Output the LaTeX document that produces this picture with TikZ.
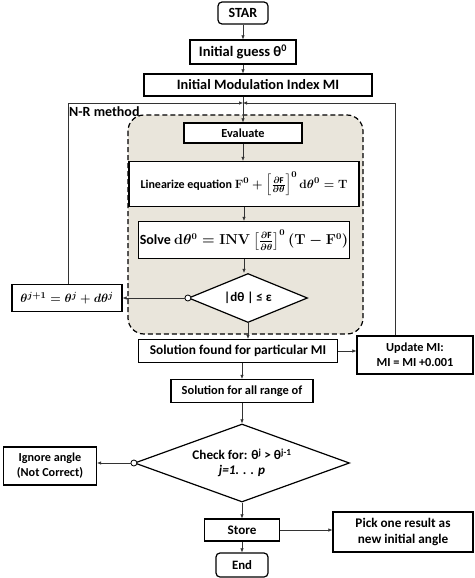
\documentclass[tikz,border=0pt]{standalone}
\usepackage{amsmath}
\usepackage{fontspec}
\setmainfont{Carlito}
\usetikzlibrary{shapes.geometric,arrows.meta}
\definecolor{beige}{HTML}{E9E5DB}
\newsavebox{\eqlinbox}
\newsavebox{\eqsolvebox}
\newsavebox{\equpdbox}
\begin{document}
\sbox{\eqlinbox}{\fontsize{12.6}{15}\selectfont\boldmath$\mathbf{F}^0+\left[\frac{\partial \mathrm{F}}{\partial\theta}\right]^0\mathbf{d}\theta^0=\mathbf{T}$}%
\sbox{\eqsolvebox}{\fontsize{13.5}{16}\selectfont\boldmath$\mathbf{d}\theta^0=\mathbf{INV}\left[\frac{\partial \mathrm{F}}{\partial\theta}\right]^0(\mathbf{T}-\mathbf{F}^0)$}%
\sbox{\equpdbox}{\fontsize{12.5}{14}\selectfont\boldmath$\theta^{j+1}=\theta^{j}+d\theta^{j}$}%
\begin{tikzpicture}[x=1pt,y=-1pt,
  box/.style={draw=black,line width=1.2pt,fill=white,inner sep=0pt,align=center,font=\bfseries},
  rbox/.style={box,rounded corners=4pt},
  dia/.style={draw=black,line width=1.2pt,fill=white,diamond,aspect=2.4,inner sep=0pt,align=center,font=\bfseries},
  conn/.style={draw=black!80,line width=0.6pt,-{Latex[length=4pt,width=3.5pt]}},
  line/.style={draw=black!80,line width=0.6pt},
  circ/.style={draw=black,line width=0.8pt,fill=white,circle,inner sep=0pt,minimum size=6pt}]
\useasboundingbox (0,0) rectangle (474,578);
% dashed region
\draw[line width=1.2pt,dash pattern=on 5pt off 3pt,fill=beige,rounded corners=16pt] (128,115) rectangle (363,334);
\node[font=\bfseries\fontsize{14}{16}\selectfont,anchor=west,inner sep=0pt] (nrlabel) at (69,112) {N-R method};
% nodes
\node[rbox,minimum width=50pt,minimum height=22pt,font=\bfseries\fontsize{14}{16}\selectfont] (star) at (243,13) {STAR};
\node[box,minimum width=106pt,minimum height=24pt,font=\bfseries\fontsize{14.5}{16}\selectfont] (guess) at (243,52) {Initial guess θ\textsuperscript{0}};
\node[box,minimum width=228pt,minimum height=22pt,font=\bfseries\fontsize{14.3}{16}\selectfont] (mi) at (258,85) {Initial Modulation Index MI};
\node[box,minimum width=118pt,minimum height=20pt,font=\bfseries\fontsize{12.3}{14}\selectfont] (eval) at (243,133) {Evaluate};
\node[box,minimum width=230pt,minimum height=45pt,font=\bfseries\fontsize{12}{14}\selectfont] (lin) at (244,184) {Linearize equation \usebox{\eqlinbox}};
\node[box,minimum width=211pt,minimum height=37pt,font=\bfseries\fontsize{14}{16}\selectfont] (solve) at (244,240) {Solve \usebox{\eqsolvebox}};
\node[dia,minimum width=119pt,minimum height=49pt,font=\bfseries\fontsize{13}{15}\selectfont] (eps) at (248,298) {|dθ | ≤ ε};
\node[box,minimum width=110pt,minimum height=27pt] (upd) at (67,298) {\usebox{\equpdbox}};
\node[box,minimum width=199pt,minimum height=23pt,font=\bfseries\fontsize{13.4}{15}\selectfont] (found) at (238,351) {Solution found for particular MI};
\node[box,minimum width=116pt,minimum height=38pt,font=\bfseries\fontsize{12.3}{15}\selectfont] (updmi) at (415,355) {Update MI:\\MI = MI +0.001};
\node[box,minimum width=142pt,minimum height=23pt,font=\bfseries\fontsize{12.4}{14}\selectfont] (range) at (242,391) {Solution for all range of};
\node[dia,minimum width=215pt,minimum height=78pt,font=\bfseries\fontsize{13.2}{15}\selectfont] (check) at (242,463) {Check for: θ\textsuperscript{j} > θ\textsuperscript{j-1}\\\itshape j=1. . . p};
\node[box,minimum width=93pt,minimum height=38pt,font=\bfseries\fontsize{12.2}{15}\selectfont] (ignore) at (50,466) {Ignore angle\\(Not Correct)};
\node[box,minimum width=75pt,minimum height=22pt,font=\bfseries\fontsize{13.1}{15}\selectfont] (store) at (242,530) {Store};
\node[box,minimum width=140pt,minimum height=40pt,font=\bfseries\fontsize{13.2}{15.5}\selectfont] (pick) at (403,532) {Pick one result as\\new initial angle};
\node[rbox,minimum width=52pt,minimum height=24pt,font=\bfseries\fontsize{12.8}{15}\selectfont] (endn) at (242,565) {End};
% coordinates
\coordinate (top) at (243,103);
\coordinate (tl) at (68,103);
\coordinate (tr) at (395,103);
% connectors
\draw[conn] (star.south) -- (guess.north);
\draw[conn] (guess.south) -- (mi.north -| guess.south);
\draw[conn] (mi.south -| eval.north) -- (eval.north);
\draw[conn] (eval.south) -- (lin.north -| eval.south);
\draw[conn] (lin.south -| solve.north) -- (solve.north);
\draw[conn] (solve.south) -- (eps.north -| solve.south);
\draw[conn] (eps.south) -- (eps.south |- found.north);
\node[circ] (c1) at (eps.west) {};
\draw[conn] (c1.west) -- (upd.east);
\draw[line] (upd.north -| tl) -- (tl);
\draw[conn] (tl) -- (top);
\draw[line] (updmi.north -| tr) -- (tr);
\draw[conn] (tr) -- (top);
\draw[conn] (found.east) -- (updmi.west |- found.east);
\draw[conn] (found.south -| range.north) -- (range.north);
\draw[conn] (range.south) -- (check.north);
\node[circ] (c2) at (check.west) {};
\draw[conn] (c2.west) -- (ignore.east |- c2.west);
\draw[conn] (check.south) -- (store.north -| check.south);
\draw[conn] (store.east) -- (pick.west |- store.east);
\draw[conn] (store.south) -- (endn.north -| store.south);
\end{tikzpicture}
\end{document}
